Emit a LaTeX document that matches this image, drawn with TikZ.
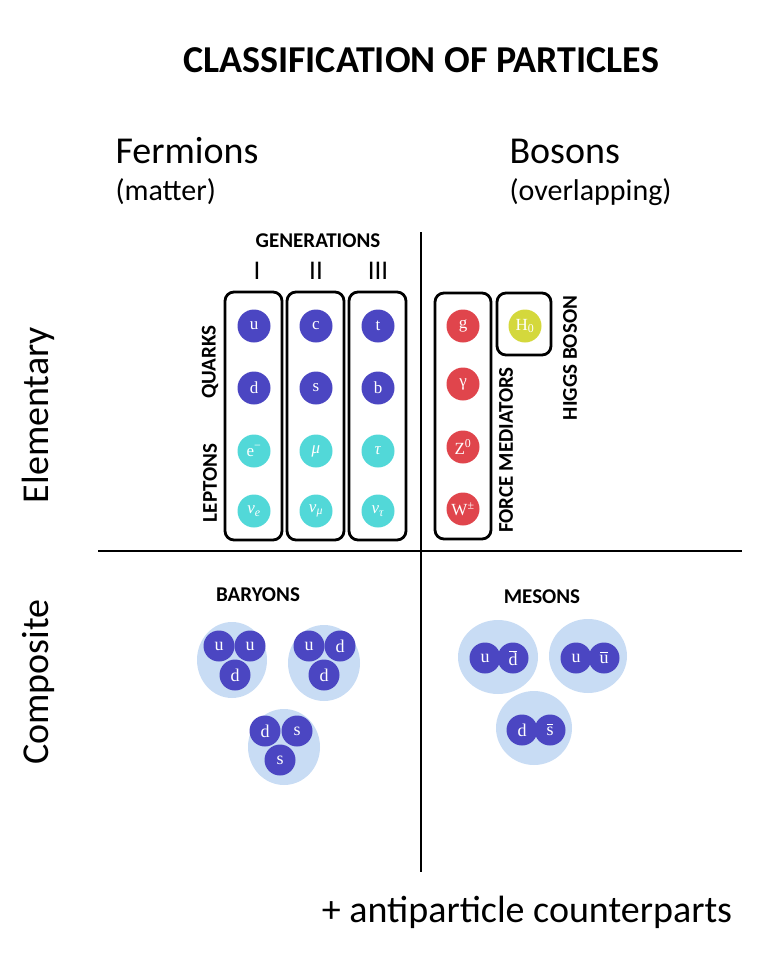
\documentclass[tikz,border=0pt]{standalone}
\usepackage{fontspec}
\setmainfont{Carlito}
\newfontfamily\pserif{Liberation Serif}
\newcommand{\ovbar}[3]{#1\llap{\raisebox{#2}{\rule{#3}{0.045em}}\kern0.03em}}
\begin{document}
\begin{tikzpicture}[x=1pt,y=-1pt,
  part/.style={circle,minimum size=33pt,inner sep=0pt,text=white,font=\pserif\fontsize{17}{17}\selectfont},
  quark/.style={part,fill=qblue},
  lepton/.style={part,fill=lcyan},
  gauge/.style={part,fill=bred},
  higgs/.style={part,fill=hyel},
  cq/.style={circle,minimum size=31pt,inner sep=0pt,fill=qblue,text=white,font=\pserif\fontsize{18}{18}\selectfont},
  blob/.style={fill=blobblue,draw=none},
  famframe/.style={draw=black,line width=2.8pt,rounded corners=9pt},
  axisline/.style={line width=2.6pt},
  smallhead/.style={font=\bfseries\fontsize{21}{21}\selectfont},
  sidehead/.style={rotate=90,font=\bfseries\fontsize{21}{21}\selectfont},
  bighead/.style={font=\fontsize{38}{38}\selectfont,anchor=base west},
  subhead/.style={font=\fontsize{30}{30}\selectfont,anchor=base west},
  rowhead/.style={rotate=90,font=\fontsize{38}{38}\selectfont},
  numhead/.style={font=\fontsize{27}{27}\selectfont},
]
\definecolor{qblue}{HTML}{4B46C2}
\definecolor{lcyan}{HTML}{52D8D8}
\definecolor{bred}{HTML}{E0454C}
\definecolor{hyel}{HTML}{D4D83C}
\definecolor{blobblue}{HTML}{C8DCF4}
\useasboundingbox (0,0) rectangle (768,971);

% titles
\node[font=\bfseries\fontsize{38}{38}\selectfont] (title) at (421,60) {CLASSIFICATION OF PARTICLES};
\node[bighead] (ferm) at (112,163) {Fermions};
\node[subhead] (fermsub) at (112,200) {(matter)};
\node[bighead] (bos) at (506,163) {Bosons};
\node[subhead] (bossub) at (506,200) {(overlapping)};
\node[rowhead] (elem) at (38,415) {Elementary};
\node[rowhead] (comp) at (38,682) {Composite};
\node[font=\fontsize{38}{38}\selectfont] (anti) at (527,912) {+ antiparticle counterparts};

% axes
\coordinate (vtop) at (421,232);
\coordinate (vbot) at (421,872);
\coordinate (hl) at (98,551);
\coordinate (hr) at (742,551);
\draw[axisline] (vtop) -- (vbot);
\draw[axisline] (hl) -- (hr);

% generations
\node[smallhead] (gen) at (318,241) {GENERATIONS};
\node[numhead] (g1) at (257,271) {I};
\node[numhead] (g2) at (316,271) {II};
\node[numhead] (g3) at (378,271) {III};

\draw[famframe] (225,292) rectangle (282,540);
\draw[famframe] (287,292) rectangle (344,540);
\draw[famframe] (349,292) rectangle (406,540);

\node[sidehead] (qk) at (210,362) {QUARKS};
\node[sidehead] (lp) at (210,483) {LEPTONS};

\node[quark] (u) at (254,326) {u};
\node[quark] (d) at (254,388) {d};
\node[lepton] (e) at (254,451) {e\textsuperscript{−}};
\node[lepton] (ne) at (254,511) {\textit{ν}\textsubscript{\textit{e}}};
\node[quark] (c) at (316,326) {c};
\node[quark] (s) at (316,388) {s};
\node[lepton] (mu) at (316,451) {\textit{μ}};
\node[lepton] (nm) at (316,511) {\textit{ν}\textsubscript{\textit{μ}}};
\node[quark] (t) at (378,326) {t};
\node[quark] (b) at (378,388) {b};
\node[lepton] (tau) at (378,451) {\textit{τ}};
\node[lepton] (nt) at (378,511) {\textit{ν}\textsubscript{\textit{τ}}};

% bosons
\draw[famframe] (435,293) rectangle (491,539);
\draw[famframe] (497,293) rectangle (551,355);
\node[gauge] (g) at (463,326) {g};
\node[gauge] (gam) at (463,384) {γ};
\node[gauge] (z) at (463,447) {Z\textsuperscript{0}};
\node[gauge] (w) at (463,509) {W\textsuperscript{±}};
\node[higgs] (h) at (525,326) {H\textsubscript{0}};
\node[sidehead] (fm) at (506,450) {FORCE MEDIATORS};
\node[sidehead] (hb) at (570,358) {HIGGS BOSON};

% baryons
\node[smallhead] (bar) at (258,595) {BARYONS};
\fill[blob] (232,660) ellipse [x radius=35, y radius=38];
\fill[blob] (324,663) ellipse [x radius=36, y radius=38];
\fill[blob] (284,747) ellipse [x radius=36, y radius=38];
\node[cq] (b1a) at (219,646) {u};
\node[cq] (b1b) at (250,646) {u};
\node[cq] (b1c) at (235,675) {d};
\node[cq] (b2a) at (309,646) {u};
\node[cq] (b2b) at (340,646) {d};
\node[cq] (b2c) at (324,675) {d};
\node[cq] (b3a) at (265,731) {d};
\node[cq] (b3b) at (297,731) {s};
\node[cq] (b3c) at (280,760) {s};

% mesons
\node[smallhead] (mes) at (542,597) {MESONS};
\fill[blob] (498,657) ellipse [x radius=40, y radius=37];
\fill[blob] (588,656) ellipse [x radius=39, y radius=37];
\fill[blob] (534,728) ellipse [x radius=38, y radius=37];
\node[cq] (m1a) at (485,658) {u};
\node[cq] (m1b) at (513,658) {\ovbar{d}{0.76em}{0.42em}};
\node[cq] (m2a) at (576,658) {u};
\node[cq] (m2b) at (604,658) {\ovbar{u}{0.58em}{0.42em}};
\node[cq] (m3a) at (522,730) {d};
\node[cq] (m3b) at (550,730) {\ovbar{s}{0.58em}{0.34em}};
\end{tikzpicture}
\end{document}
